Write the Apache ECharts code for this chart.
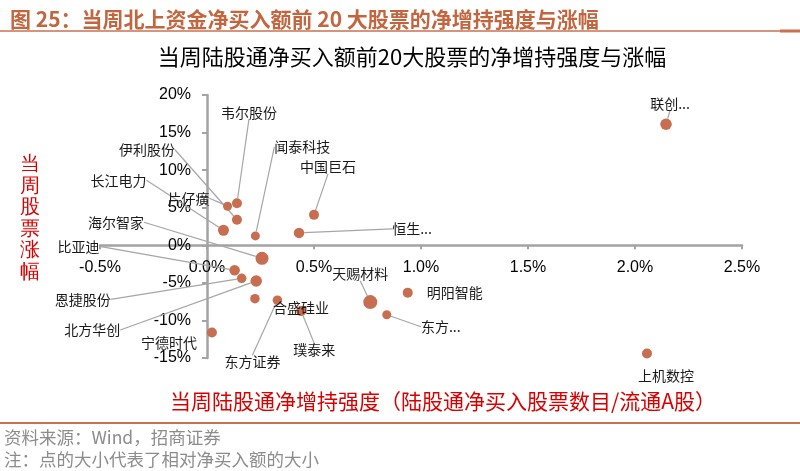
<!DOCTYPE html>
<html>
<head>
<meta charset="utf-8">
<script src="https://cdn.jsdelivr.net/npm/echarts@6/dist/echarts.min.js"></script>
<style>
  html, body { margin: 0; padding: 0; background: #fff; }
  #chart { width: 800px; height: 471px; }
</style>
</head>
<body>
<div id="chart"></div>
<script>
// 股票名称
const stockNames = ['韦尔股份', '伊利股份', '片仔癀', '长江电力', '闻泰科技', '中国巨石', '恒生...',
  '海尔智家', '比亚迪', '恩捷股份', '北方华创', '宁德时代', '合盛硅业', '东方证券', '璞泰来',
  '天赐材料', '明阳智能', '东方...', '联创...', '上机数控'];
// 净增持强度 (%)
const netIncrease = [0.14, 0.14, 0.096, 0.077, 0.226, 0.50, 0.43,
  0.257, 0.129, 0.162, 0.23, 0.023, 0.224, 0.329, 0.44,
  0.763, 0.938, 0.84, 2.145, 2.056];
// 当周涨幅 (%)
const priceChange = [5.6, 3.4, 5.2, 2.0, 1.25, 4.05, 1.65,
  -1.73, -3.33, -4.4, -4.75, -11.6, -7.1, -7.3, -8.76,
  -7.56, -6.3, -9.24, 16.1, -14.4];
// 相对净买入额
const netBuy = [1.0, 1.0, 0.9, 1.1, 0.9, 1.0, 1.05,
  1.3, 1.05, 0.95, 1.15, 1.0, 0.95, 0.95, 1.0,
  1.4, 1.0, 0.9, 1.15, 1.0];

const xTicks = { min: -0.5, max: 2.5, interval: 0.5 };
const yTicks = { min: -15, max: 20, interval: 5 };

// label placement (pixel offset from the point) and whether a leader line is drawn
const labelOffsets = [[12, -91], [-90, -70], [-39, -8], [-105, -50], [47, -89], [14, -48], [113, -4],
  [-146, -36], [-156, -24], [-159, 21], [-164, 49], [-43, 10], [46, 9], [-25, 62], [13, 39],
  [-10, -28], [47, 0], [54, 12], [4, -21], [19, 22]];
const leaderShown = [1, 1, 1, 1, 1, 1, 1, 1, 1, 1, 1, 0, 0, 1, 1, 1, 0, 1, 1, 0];

const chart = echarts.init(document.getElementById('chart'));

const points = stockNames.map((n, i) => ({
  name: n,
  value: [netIncrease[i], priceChange[i], netBuy[i]],
  labelLine: { show: !!leaderShown[i] }
}));

const axisGray = '#a3a3a3';
const cjk = '"Noto Sans CJK SC", sans-serif';
const gridBox = { left: 100, right: 58, top: 95, bottom: 113 };

const option = {
  animation: false,
  title: [
    {
      text: '图 25：当周北上资金净买入额前 20 大股票的净增持强度与涨幅',
      left: 5, top: 4,
      textStyle: { fontSize: 21, fontWeight: 'bold', color: '#c3653e', fontFamily: cjk }
    },
    {
      text: '当周陆股通净买入额前20大股票的净增持强度与涨幅',
      left: 407, top: 41, textAlign: 'center',
      textStyle: { fontSize: 22, fontWeight: 'normal', color: '#000', fontFamily: cjk }
    }
  ],
  grid: gridBox,
  xAxis: {
    type: 'value',
    min: xTicks.min, max: xTicks.max, interval: xTicks.interval,
    axisLine: { show: true, onZero: false, lineStyle: { color: axisGray, width: 2.5 } },
    axisTick: { show: true, length: 4, lineStyle: { color: axisGray, width: 2 } },
    splitLine: { show: false },
    axisLabel: {
      margin: 14, fontSize: 16, color: '#000', fontFamily: '"Liberation Sans", Arial',
      formatter: v => v.toFixed(1) + '%'
    }
  },
  yAxis: {
    type: 'value',
    min: yTicks.min, max: yTicks.max, interval: yTicks.interval,
    axisLine: { show: true, onZero: false, lineStyle: { color: axisGray, width: 2.5 } },
    axisTick: { show: true, length: 5, lineStyle: { color: axisGray, width: 2 } },
    splitLine: { show: false },
    axisLabel: {
      margin: 16, fontSize: 16, color: '#000', fontFamily: '"Liberation Sans", Arial',
      formatter: v => v + '%'
    }
  },
  series: [
    {
      type: 'scatter',
      data: points,
      symbolSize: v => v[2] * 10,
      itemStyle: { color: '#c86e50', opacity: 1 },
      label: {
        show: true,
        position: 'inside',
        formatter: '{b}',
        fontSize: 14,
        color: '#1a1a1a',
        fontFamily: cjk
      },
      labelLine: { show: true, lineStyle: { color: '#a6a6a6', width: 1.2 } },
      labelLayout: p => ({ dx: labelOffsets[p.dataIndex][0], dy: labelOffsets[p.dataIndex][1] }),
      emphasis: { disabled: true }
    }
  ],
  graphic: [
    { type: 'line', shape: { x1: 0, y1: 31, x2: 800, y2: 31 }, style: { stroke: '#c8704f', lineWidth: 1.5 } },
    { type: 'line', shape: { x1: 780, y1: 31, x2: 800, y2: 31 }, style: { stroke: '#c8704f', lineWidth: 3 } },
    { type: 'line', shape: { x1: 0, y1: 423, x2: 800, y2: 423 }, style: { stroke: '#c8704f', lineWidth: 2 } },
    {
      type: 'text', left: 20, top: 154,
      style: { text: '当\n周\n股\n票\n涨\n幅', fontSize: 20, lineHeight: 21.5, fill: '#d90000', font: '20px ' + cjk, textAlign: 'center' }
    },
    {
      type: 'text', x: 443, y: 401,
      style: {
        text: '当周陆股通净增持强度（陆股通净买入股票数目/流通A股）',
        font: '21px ' + cjk, fill: '#d90000', textAlign: 'center', textVerticalAlign: 'middle'
      }
    },
    {
      type: 'text', x: 4, y: 437,
      style: { text: '资料来源：Wind，招商证券', font: '17.5px ' + cjk, fill: '#8c8c8c', textVerticalAlign: 'middle' }
    },
    {
      type: 'text', x: 4, y: 459,
      style: { text: '注：点的大小代表了相对净买入额的大小', font: '17.5px ' + cjk, fill: '#8c8c8c', textVerticalAlign: 'middle' }
    }
  ]
};

chart.setOption(option);

// move both axes so they cross at the origin (0, 0)
const origin = chart.convertToPixel({ xAxisIndex: 0, yAxisIndex: 0 }, [0, 0]);
const plotBottom = 471 - gridBox.bottom;
chart.setOption({
  xAxis: { offset: -(plotBottom - origin[1]) },
  yAxis: { offset: -(origin[0] - gridBox.left) }
});
</script>
</body>
</html>
